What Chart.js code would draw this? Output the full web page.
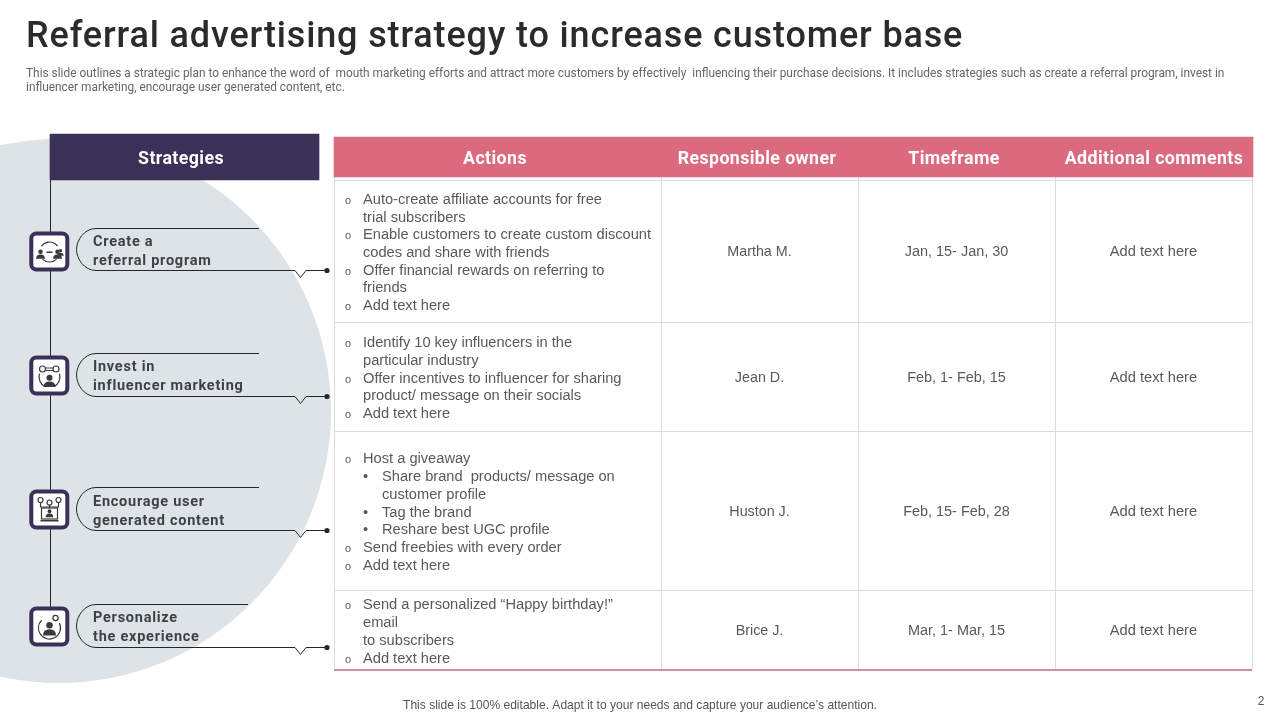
<!DOCTYPE html>
<html>
<head>
<meta charset="utf-8">
<title>Referral advertising strategy</title>
<script src="https://cdn.jsdelivr.net/npm/chart.js@4"></script>
<style>
  html, body { margin: 0; padding: 0; background: #fff; }
  canvas { display: block; }
</style>
</head>
<body>
<canvas id="slide" width="1280" height="720"></canvas>
<script>
// ── Content ───────────────────────────────────────────────────────
const titleText = "Referral advertising strategy to increase customer base";
const subtitleLines = [
  "This slide outlines a strategic plan to enhance the word of  mouth marketing efforts and attract more customers by effectively  influencing their purchase decisions. It includes strategies such as create a referral program, invest in",
  "influencer marketing, encourage user generated content, etc."
];
const footerText = "This slide is 100% editable. Adapt it to your needs and capture your audience\u2019s attention.";
const pageNumber = "2";

const strategiesHeader = "Strategies";
const columnHeaders = ["Actions", "Responsible owner", "Timeframe", "Additional comments"];
const strategies = [
  ["Create a", "referral program"],
  ["Invest in", "influencer marketing"],
  ["Encourage user", "generated content"],
  ["Personalize", "the experience"]
];
// "o " / "- " start a bullet, leading spaces continue the bullet above
const actions = [
  ["o Auto-create affiliate accounts for free", "  trial subscribers", "o Enable customers to create custom discount", "  codes and share with friends", "o Offer financial rewards on referring to", "  friends", "o Add text here"],
  ["o Identify 10 key influencers in the", "  particular industry", "o Offer incentives to influencer for sharing", "  product/ message on their socials", "o Add text here"],
  ["o Host a giveaway", "- Share brand  products/ message on", "    customer profile", "- Tag the brand", "- Reshare best UGC profile", "o Send freebies with every order", "o Add text here"],
  ["o Send a personalized \u201CHappy birthday!\u201D", "  email", "  to subscribers", "o Add text here"]
];
const owners = ["Martha M.", "Jean D.", "Huston J.", "Brice J."];
const timeframes = ["Jan, 15- Jan, 30", "Feb, 1- Feb, 15", "Feb, 15- Feb, 28", "Mar, 1- Mar, 15"];
const comments = ["Add text here", "Add text here", "Add text here", "Add text here"];

// ── Layout (slide pixels, the axes below run in the same units) ───
const columnEdges = [334, 661, 858, 1055, 1252];
const rowEdges = [180, 322, 431, 590, 670];
const headerCentres = [495, 757, 954, 1154];
const iconRows = [252, 376, 510, 627];
const bubbleTops = [228.5, 353.5, 487.5, 604.5];
const bubbleBottoms = [270.5, 396.5, 530.5, 647.5];
const bubbleTextTops = [228.5, 353.5, 488.5, 604.5];
const bubbleTopEnds = [259, 259, 259, 248];

const PURPLE = "#3b3058";
const PINK = "#dc6a7e";
const INK = "#404048";
const LINE = "#25252f";
const BODY = "#595959";
const DIN = "Roboto, 'Noto Sans', sans-serif";
const ARIAL = "'Liberation Sans', Arial, sans-serif";

function person(ctx, x, y, s) {
  ctx.beginPath();
  ctx.arc(x, y - s * 0.72, s * 0.5, 0, Math.PI * 2);
  ctx.fill();
  ctx.beginPath();
  ctx.moveTo(x - s, y + s * 0.85);
  ctx.quadraticCurveTo(x - s, y - s * 0.1, x, y - s * 0.1);
  ctx.quadraticCurveTo(x + s, y - s * 0.1, x + s, y + s * 0.85);
  ctx.closePath();
  ctx.fill();
}

function ring(ctx, x, y, r) {
  ctx.beginPath();
  ctx.arc(x, y, r, 0, Math.PI * 2);
  ctx.stroke();
}

const iconDrawers = [
  (ctx, x, y) => {
    person(ctx, x - 9, y + 3, 4.5);
    person(ctx, x + 8, y + 3, 4.5);
    person(ctx, x + 11, y + 1, 3.2);
    ctx.beginPath();
    ctx.arc(x, y, 10, Math.PI * 1.2, Math.PI * 1.8);
    ctx.stroke();
    ctx.beginPath();
    ctx.arc(x, y, 10, Math.PI * 0.25, Math.PI * 0.75);
    ctx.stroke();
    ctx.fillRect(x - 3, y - 0.5, 6, 1.5);
  },
  (ctx, x, y) => {
    person(ctx, x, y + 6, 6);
    ring(ctx, x - 7, y - 7, 3);
    ring(ctx, x + 6.5, y - 7, 3);
    ctx.fillRect(x - 3.5, y - 8.5, 7, 1);
    ctx.fillRect(x - 3.5, y - 6, 7, 1);
    ctx.beginPath();
    ctx.arc(x, y + 1, 10.5, Math.PI * 0.65, Math.PI * 1.1);
    ctx.stroke();
    ctx.beginPath();
    ctx.arc(x, y + 1, 10.5, Math.PI * 1.9, Math.PI * 0.35);
    ctx.stroke();
  },
  (ctx, x, y) => {
    ring(ctx, x - 9, y - 10, 2.5);
    ring(ctx, x, y - 7.5, 2.5);
    ring(ctx, x + 9, y - 10, 2.5);
    ctx.beginPath();
    ctx.moveTo(x - 9, y - 7.5);
    ctx.lineTo(x - 9, y - 3);
    ctx.lineTo(x + 9, y - 3);
    ctx.lineTo(x + 9, y - 7.5);
    ctx.moveTo(x, y - 5);
    ctx.lineTo(x, y - 2);
    ctx.stroke();
    ctx.strokeRect(x - 8, y - 2, 16, 11);
    person(ctx, x, y + 4, 3.8);
    ctx.fillRect(x - 9, y + 10, 18, 1.5);
  },
  (ctx, x, y) => {
    person(ctx, x, y + 3, 6.5);
    ctx.beginPath();
    ctx.arc(x, y + 1, 11, Math.PI * 1.85, Math.PI * 1.25);
    ctx.stroke();
    ring(ctx, x + 6, y - 9, 2.6);
  }
];

function spacedText(ctx, text, x, y, font, color, align, spacing) {
  ctx.font = font;
  ctx.fillStyle = color;
  ctx.textAlign = align || "left";
  ctx.letterSpacing = spacing || "0px";
  ctx.textBaseline = "alphabetic";
  ctx.fillText(text, x, y);
  ctx.letterSpacing = "0px";
}

// Grey disc behind the strategy column
const backdropPlugin = {
  id: "backdrop",
  beforeDraw(chart) {
    const { ctx, scales: { x, y } } = chart;
    ctx.save();
    ctx.fillStyle = "#dee3e8";
    ctx.beginPath();
    ctx.arc(x.getPixelForValue(59), y.getPixelForValue(411), 272, 0, Math.PI * 2);
    ctx.fill();
    ctx.restore();
  }
};

function drawStrategies(ctx, y) {
  ctx.strokeStyle = LINE;
  ctx.lineWidth = 1;
  ctx.beginPath();
  ctx.moveTo(50.5, 180);
  ctx.lineTo(50.5, y.getPixelForValue(iconRows[3]));
  ctx.stroke();

  strategies.forEach((lines, i) => {
    const cy = y.getPixelForValue(iconRows[i]);
    const top = bubbleTops[i];
    const bottom = bubbleBottoms[i];

    ctx.strokeStyle = LINE;
    ctx.lineWidth = 1;
    ctx.beginPath();
    ctx.moveTo(bubbleTopEnds[i], top);
    ctx.lineTo(96, top);
    ctx.bezierCurveTo(84, top, 76.5, top + 12, 76.5, (top + bottom) / 2);
    ctx.bezierCurveTo(76.5, bottom - 12, 84, bottom, 96, bottom);
    ctx.lineTo(295, bottom);
    ctx.lineTo(300.5, bottom + 7);
    ctx.lineTo(306, bottom);
    ctx.lineTo(327, bottom);
    ctx.stroke();
    ctx.fillStyle = LINE;
    ctx.beginPath();
    ctx.arc(327, bottom, 2.6, 0, Math.PI * 2);
    ctx.fill();

    ctx.fillStyle = "#fff";
    ctx.strokeStyle = PURPLE;
    ctx.lineWidth = 4;
    ctx.beginPath();
    ctx.roundRect(31.3, cy - 18.5, 36, 36, 5);
    ctx.fill();
    ctx.stroke();

    ctx.fillStyle = "#3a3a3a";
    ctx.strokeStyle = "#3a3a3a";
    ctx.lineWidth = 1.2;
    iconDrawers[i](ctx, 49.5, cy);

    const textTop = bubbleTextTops[i];
    spacedText(ctx, lines[0], 93, textTop + 17, "700 14.5px " + DIN, INK, "left", "0.75px");
    spacedText(ctx, lines[1], 93, textTop + 36, "700 14.5px " + DIN, INK, "left", "0.75px");
  });
}

function drawActions(ctx, x, y) {
  const step = 17.67;
  const left = x.getPixelForValue(columnEdges[0]);
  actions.forEach((lines, r) => {
    const mid = (y.getPixelForValue(rowEdges[r]) + y.getPixelForValue(rowEdges[r + 1])) / 2;
    const start = mid + 1 - (step * (lines.length - 1)) / 2 + 5;
    lines.forEach((line, i) => {
      const base = start + i * step;
      const font = "14.65px " + ARIAL;
      const text = line.trim().replace(/^[o-] /, "");
      if (line.startsWith("o ")) {
        spacedText(ctx, "o", left + 11, base, "11px " + ARIAL, BODY);
        spacedText(ctx, text, left + 29, base, font, BODY);
      } else if (line.startsWith("- ")) {
        spacedText(ctx, "\u2022", left + 29, base, font, BODY);
        spacedText(ctx, text, left + 48, base, font, BODY);
      } else {
        spacedText(ctx, text, left + (line.startsWith("    ") ? 48 : 29), base, font, BODY);
      }
    });
  });
}

function drawCentredColumn(ctx, x, y, values, col, size) {
  const cx = (x.getPixelForValue(columnEdges[col]) + x.getPixelForValue(columnEdges[col + 1])) / 2;
  values.forEach((value, r) => {
    const mid = (y.getPixelForValue(rowEdges[r]) + y.getPixelForValue(rowEdges[r + 1])) / 2;
    spacedText(ctx, value, cx, mid + 5, size + "px " + ARIAL, BODY, "center");
  });
}

const slidePlugin = {
  id: "slideText",
  afterDraw(chart) {
    const { ctx, scales: { x, y } } = chart;
    ctx.save();
    spacedText(ctx, titleText, 26, 47, "500 36px " + DIN, "#2b2b2b", "left", "0.85px");
    subtitleLines.forEach((line, i) => {
      spacedText(ctx, line, 26, 77 + i * 14, "11.88px " + DIN, "#666", "left");
    });
    spacedText(ctx, footerText, 640, 709, "12.05px " + ARIAL, "#555", "center");
    spacedText(ctx, pageNumber, 1261, 705, "12px " + ARIAL, "#555", "center");

    spacedText(ctx, strategiesHeader, 181, 164, "700 17.8px " + DIN, "#fff", "center", "0.4px");
    columnHeaders.forEach((label, i) => {
      spacedText(ctx, label, headerCentres[i], 164, "700 17.8px " + DIN, "#fff", "center", "0.4px");
    });

    drawStrategies(ctx, y);
    drawActions(ctx, x, y);
    drawCentredColumn(ctx, x, y, owners, 1, 14.3);
    drawCentredColumn(ctx, x, y, timeframes, 2, 14.45);
    drawCentredColumn(ctx, x, y, comments, 3, 14.7);
    ctx.restore();
  }
};

new Chart(document.getElementById("slide"), {
  type: "bar",
  data: {
    datasets: [
      {
        // table header band
        data: [{ x: [columnEdges[0], 1253], y: 157 }],
        backgroundColor: PINK,
        barThickness: 40,
        grouped: false,
        clip: false
      },
      {
        // strategies header band, sits left of the table
        data: [{ x: [50, 319], y: 157 }],
        backgroundColor: PURPLE,
        barThickness: 46,
        grouped: false,
        clip: false
      }
    ]
  },
  options: {
    indexAxis: "y",
    responsive: false,
    animation: false,
    devicePixelRatio: 1,
    layout: { padding: { left: 334, right: 28, top: 137, bottom: 50 } },
    plugins: { legend: { display: false }, tooltip: { enabled: false } },
    scales: {
      x: {
        type: "linear",
        min: 334,
        max: 1252,
        border: { display: false },
        ticks: { display: false },
        grid: { color: "#dcdcdc", drawTicks: false },
        afterBuildTicks: (scale) => { scale.ticks = columnEdges.map((value) => ({ value })); }
      },
      y: {
        type: "linear",
        reverse: true,
        offset: false,
        min: 137,
        max: 670,
        border: { display: false },
        ticks: { display: false },
        grid: {
          offset: false,
          color: (c) => (c.tick && c.tick.value === 670 ? "#cf8f9c" : "#dcdcdc"),
          lineWidth: (c) => (c.tick && c.tick.value === 670 ? 2 : 1),
          drawTicks: false
        },
        afterBuildTicks: (scale) => { scale.ticks = rowEdges.map((value) => ({ value })); }
      }
    }
  },
  plugins: [backdropPlugin, slidePlugin]
});
</script>
</body>
</html>
